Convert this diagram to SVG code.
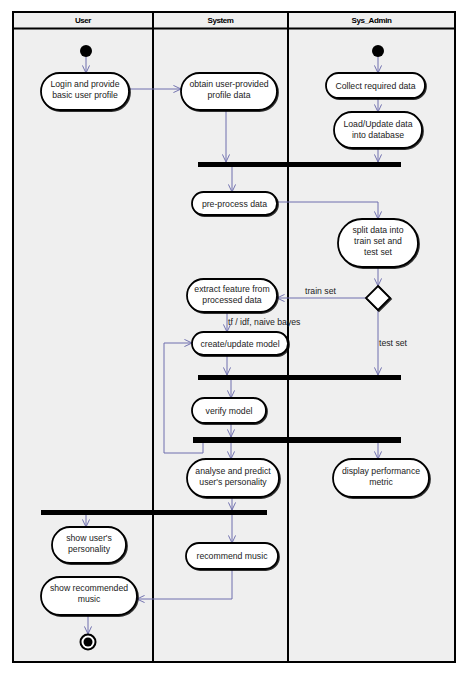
<svg xmlns="http://www.w3.org/2000/svg" width="474" height="682" viewBox="0 0 474 682">
<defs>
<marker id="arr" viewBox="0 0 10 10" refX="9.5" refY="5" markerWidth="8" markerHeight="8" orient="auto" markerUnits="userSpaceOnUse">
<path d="M0,0.5 L9.5,5 L0,9.5" fill="none" stroke="#6f6fae" stroke-width="1.2"/>
</marker>
<filter id="sh" x="-10%" y="-10%" width="120%" height="130%">
<feDropShadow dx="1" dy="1" stdDeviation="0.3" flood-color="#000" flood-opacity="0.8"/>
</filter>
</defs>
<style>
.lane{fill:#efefef;stroke:#000;stroke-width:2}
.hdr{font-family:"Liberation Sans",Arial,sans-serif;font-size:8px;font-weight:bold;fill:#000;text-anchor:middle;letter-spacing:-0.4px}
.node{fill:#fff;stroke:#000;stroke-width:1.8;filter:url(#sh)}
.t{font-family:"Liberation Sans",Arial,sans-serif;font-size:8.7px;fill:#222;text-anchor:middle}
.lbl{font-family:"Liberation Sans",Arial,sans-serif;font-size:8.7px;fill:#222}
.e{fill:none;stroke:#6f6fae;stroke-width:1;marker-end:url(#arr)}
.bar{fill:#000}
</style>
<g id="lanes">
<rect class="lane" x="13" y="12" width="442" height="650"/>
<line x1="13" y1="28.5" x2="455" y2="28.5" stroke="#000" stroke-width="2"/>
<line x1="153" y1="12" x2="153" y2="662" stroke="#000" stroke-width="2"/>
<line x1="288" y1="12" x2="288" y2="662" stroke="#000" stroke-width="2"/>
<text class="hdr" x="83" y="23">User</text>
<text class="hdr" x="220.5" y="23">System</text>
<text class="hdr" x="371.5" y="23">Sys_Admin</text>
</g>
<g id="connectors">
<line class="e" x1="86" y1="51" x2="86" y2="73"/>
<line class="e" x1="129" y1="89" x2="181" y2="89"/>
<line class="e" x1="226" y1="110" x2="226" y2="162"/>
<line class="e" x1="378" y1="51" x2="378" y2="73"/>
<line class="e" x1="378" y1="98" x2="378" y2="112"/>
<line class="e" x1="378" y1="148" x2="378" y2="162"/>
<line class="e" x1="232" y1="167" x2="232" y2="192"/>
<polyline class="e" points="277,202 378,202 378,219"/>
<line class="e" x1="378" y1="267" x2="378" y2="286"/>
<line class="e" x1="366" y1="298" x2="277" y2="298"/>
<line class="e" x1="227" y1="312" x2="227" y2="332"/>
<line class="e" x1="227" y1="355" x2="227" y2="375"/>
<line class="e" x1="378" y1="310" x2="378" y2="375"/>
<line class="e" x1="231" y1="380" x2="231" y2="398"/>
<line class="e" x1="231" y1="423" x2="231" y2="437"/>
<polyline class="e" points="203,443 203,453 164,453 164,343 192,343"/>
<line class="e" x1="231" y1="443" x2="231" y2="459"/>
<line class="e" x1="378" y1="443" x2="378" y2="459"/>
<line class="e" x1="232" y1="497" x2="232" y2="510"/>
<line class="e" x1="86" y1="515" x2="86" y2="527"/>
<line class="e" x1="232" y1="515" x2="232" y2="543"/>
<polyline class="e" points="232,569 232,599 137,599"/>
<line class="e" x1="88" y1="615" x2="88" y2="634"/>
<text class="lbl" x="305" y="294">train set</text>
<text class="lbl" x="228" y="325">tf / idf, naive bayes</text>
<text class="lbl" x="379" y="346">test set</text>
</g>
<g id="start_user"><circle cx="86" cy="51" r="6" fill="#000"/></g>
<g id="start_admin"><circle cx="378" cy="51" r="6" fill="#000"/></g>
<g id="login">
<rect class="node" x="41" y="73" width="88" height="37" rx="18.5"/>
<text class="t" x="85" y="87">Login and provide</text>
<text class="t" x="85" y="98">basic user profile</text>
</g>
<g id="obtain">
<rect class="node" x="181" y="73" width="96" height="37" rx="18.5"/>
<text class="t" x="229" y="87">obtain user-provided</text>
<text class="t" x="229" y="98">profile data</text>
</g>
<g id="collect">
<rect class="node" x="326" y="73" width="99" height="25" rx="12.5"/>
<text class="t" x="375.5" y="88.5">Collect required data</text>
</g>
<g id="load">
<rect class="node" x="334" y="112" width="88" height="36" rx="18"/>
<text class="t" x="378" y="127">Load/Update data</text>
<text class="t" x="378" y="138">into database</text>
</g>
<g id="fork1"><rect class="bar" x="198" y="162" width="203" height="5"/></g>
<g id="preprocess">
<rect class="node" x="192" y="192" width="85" height="23" rx="11.5"/>
<text class="t" x="234.5" y="206.5">pre-process data</text>
</g>
<g id="split">
<rect class="node" x="338" y="219" width="80" height="48" rx="24"/>
<text class="t" x="378" y="233">split data into</text>
<text class="t" x="378" y="244">train set and</text>
<text class="t" x="378" y="255">test set</text>
</g>
<g id="decision">
<polygon points="378,286 390,298 378,310 366,298" fill="#fff" stroke="#000" stroke-width="1.8" filter="url(#sh)"/>
</g>
<g id="extract">
<rect class="node" x="187" y="279" width="90" height="33" rx="16.5"/>
<text class="t" x="232" y="292">extract feature from</text>
<text class="t" x="232" y="303">processed data</text>
</g>
<g id="create">
<rect class="node" x="192" y="332" width="96" height="23" rx="11.5"/>
<text class="t" x="240" y="346.5">create/update model</text>
</g>
<g id="fork2"><rect class="bar" x="198" y="375" width="203" height="5"/></g>
<g id="verify">
<rect class="node" x="192" y="398" width="74" height="25" rx="12.5"/>
<text class="t" x="229" y="413.5">verify model</text>
</g>
<g id="fork3"><rect class="bar" x="193" y="437" width="208" height="6"/></g>
<g id="analyse">
<rect class="node" x="187" y="459" width="92" height="38" rx="19"/>
<text class="t" x="233" y="474">analyse and predict</text>
<text class="t" x="233" y="485">user's personality</text>
</g>
<g id="display">
<rect class="node" x="333" y="459" width="96" height="38" rx="19"/>
<text class="t" x="381" y="474">display performance</text>
<text class="t" x="381" y="485">metric</text>
</g>
<g id="fork4"><rect class="bar" x="41" y="510" width="226" height="5"/></g>
<g id="show_personality">
<rect class="node" x="52" y="527" width="74" height="36" rx="18"/>
<text class="t" x="89" y="541">show user's</text>
<text class="t" x="89" y="552">personality</text>
</g>
<g id="recommend">
<rect class="node" x="186" y="543" width="92" height="26" rx="13"/>
<text class="t" x="232" y="559">recommend music</text>
</g>
<g id="show_music">
<rect class="node" x="41" y="577" width="96" height="38" rx="19"/>
<text class="t" x="89" y="591">show recommended</text>
<text class="t" x="89" y="602">music</text>
</g>
<g id="end">
<circle cx="88" cy="642" r="7.5" fill="#fff" stroke="#000" stroke-width="2"/>
<circle cx="88" cy="642" r="4.5" fill="#000"/>
</g>
</svg>
